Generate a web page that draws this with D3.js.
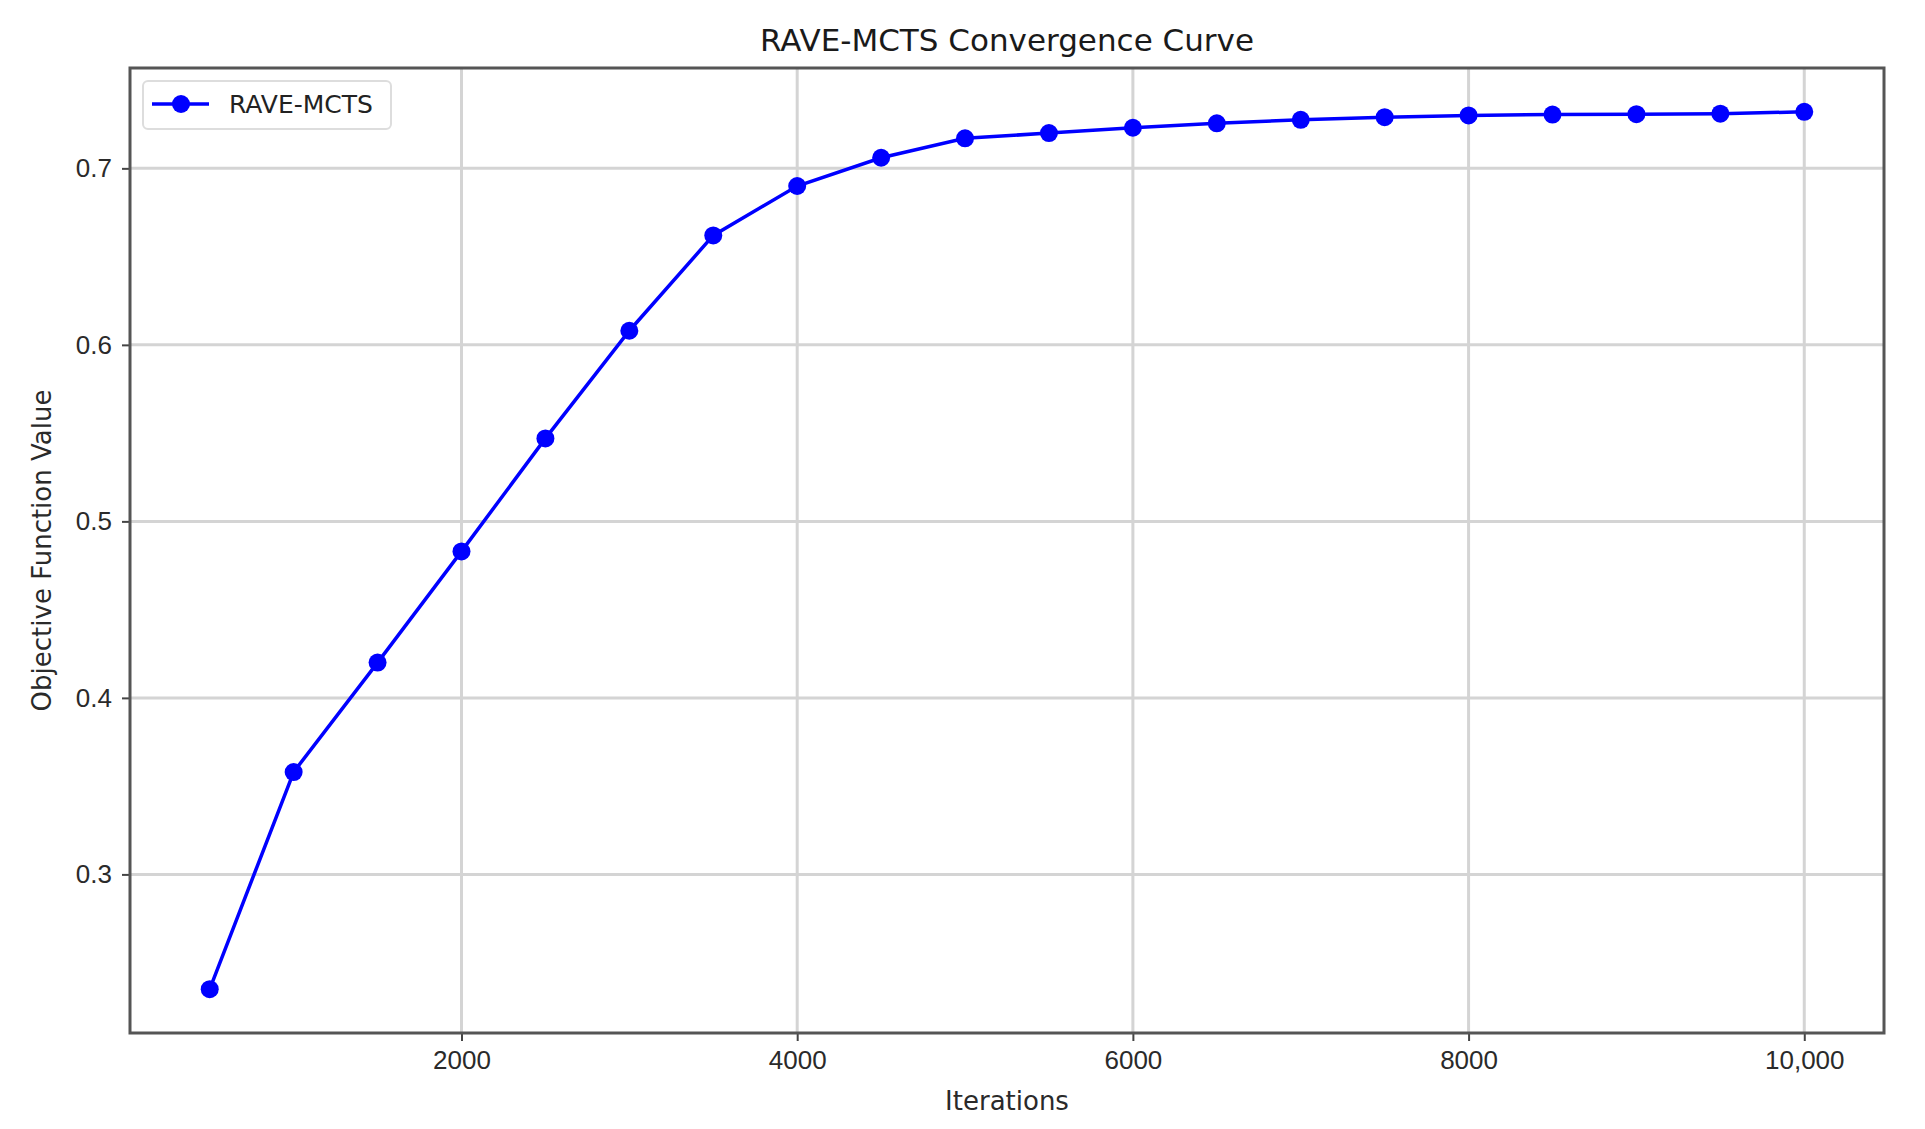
<!DOCTYPE html>
<html>
<head>
<meta charset="utf-8">
<script src="https://cdn.jsdelivr.net/npm/d3@7"></script>
<style>
  body { margin: 0; background: #fff; }
  svg { display: block; font-family: "DejaVu Sans", sans-serif; }
  .grid line { stroke: #d4d4d4; stroke-width: 3; }
  .axis path { display: none; }
  .axis line { stroke: #444; stroke-width: 2; }
  .axis text { fill: #2a2a2a; font-size: 26px; }
</style>
</head>
<body>
<svg id="chart" width="1925" height="1129"></svg>
<script>
const iterations = [500, 1000, 1500, 2000, 2500, 3000, 3500, 4000, 4500, 5000,
  5500, 6000, 6500, 7000, 7500, 8000, 8500, 9000, 9500, 10000];
const objectiveValues = [0.235, 0.358, 0.420, 0.483, 0.547, 0.608, 0.662, 0.690, 0.706, 0.717,
  0.720, 0.723, 0.7255, 0.7275, 0.729, 0.730, 0.7305, 0.7307, 0.731, 0.732];
const xTicks = [2000, 4000, 6000, 8000, 10000];
const xTickLabels = ["2000", "4000", "6000", "8000", "10,000"];
const yTicks = [0.3, 0.4, 0.5, 0.6, 0.7];
const seriesName = "RAVE-MCTS";

const margin = { top: 68, right: 41, bottom: 96, left: 130 };
const width = 1925 - margin.left - margin.right;
const height = 1129 - margin.top - margin.bottom;

const svg = d3.select("#chart");
const g = svg.append("g").attr("transform", `translate(${margin.left},${margin.top})`);

// matplotlib-style 5% padding around the data
const xPad = (d3.max(iterations) - d3.min(iterations)) * 0.05;
const yPad = (d3.max(objectiveValues) - d3.min(objectiveValues)) * 0.05;

const x = d3.scaleLinear()
  .domain([d3.min(iterations) - xPad, d3.max(iterations) + xPad])
  .range([0, width]);

const y = d3.scaleLinear()
  .domain([d3.min(objectiveValues) - yPad, d3.max(objectiveValues) + yPad])
  .range([height, 0]);

// Grid
g.append("g")
  .attr("class", "grid")
  .selectAll("line.v")
  .data(xTicks)
  .enter()
  .append("line")
  .attr("x1", d => x(d))
  .attr("x2", d => x(d))
  .attr("y1", 0)
  .attr("y2", height);

g.select(".grid")
  .selectAll("line.h")
  .data(yTicks)
  .enter()
  .append("line")
  .attr("x1", 0)
  .attr("x2", width)
  .attr("y1", d => y(d))
  .attr("y2", d => y(d));

// Axes
g.append("g")
  .attr("class", "axis")
  .attr("transform", `translate(0,${height})`)
  .call(d3.axisBottom(x).tickValues(xTicks).tickFormat((d, i) => xTickLabels[i]).tickSize(8).tickPadding(10));

g.append("g")
  .attr("class", "axis")
  .call(d3.axisLeft(y).tickValues(yTicks).tickFormat(d3.format(".1f")).tickSize(8).tickPadding(10));

// Frame
g.append("rect")
  .attr("width", width)
  .attr("height", height)
  .attr("fill", "none")
  .attr("stroke", "#555")
  .attr("stroke-width", 3);

// Series
const line = d3.line()
  .x((d, i) => x(iterations[i]))
  .y(d => y(d));

g.append("path")
  .datum(objectiveValues)
  .attr("fill", "none")
  .attr("stroke", "#0000ff")
  .attr("stroke-width", 3.5)
  .attr("d", line);

g.append("g")
  .selectAll("circle")
  .data(objectiveValues)
  .enter()
  .append("circle")
  .attr("cx", (d, i) => x(iterations[i]))
  .attr("cy", d => y(d))
  .attr("r", 9)
  .attr("fill", "#0000ff");

// Legend
const legend = g.append("g").attr("transform", "translate(13,13)");

legend.append("rect")
  .attr("width", 248)
  .attr("height", 48)
  .attr("rx", 5)
  .attr("fill", "#fff")
  .attr("stroke", "#ddd")
  .attr("stroke-width", 2);

legend.append("line")
  .attr("x1", 9)
  .attr("x2", 66)
  .attr("y1", 23)
  .attr("y2", 23)
  .attr("stroke", "#0000ff")
  .attr("stroke-width", 3.5);

legend.append("circle")
  .attr("cx", 38)
  .attr("cy", 23)
  .attr("r", 9)
  .attr("fill", "#0000ff");

legend.append("text")
  .attr("x", 86)
  .attr("y", 32)
  .style("font-size", "25px")
  .style("fill", "#222")
  .text(seriesName);

// Titles
svg.append("text")
  .attr("x", margin.left + width / 2)
  .attr("y", 51)
  .attr("text-anchor", "middle")
  .style("font-size", "31px")
  .style("fill", "#1a1a1a")
  .text("RAVE-MCTS Convergence Curve");

svg.append("text")
  .attr("x", margin.left + width / 2)
  .attr("y", 1110)
  .attr("text-anchor", "middle")
  .style("font-size", "26px")
  .style("fill", "#2a2a2a")
  .text("Iterations");

svg.append("text")
  .attr("transform", `translate(51,${margin.top + height / 2}) rotate(-90)`)
  .attr("text-anchor", "middle")
  .style("font-size", "26px")
  .style("fill", "#2a2a2a")
  .text("Objective Function Value");
</script>
</body>
</html>
